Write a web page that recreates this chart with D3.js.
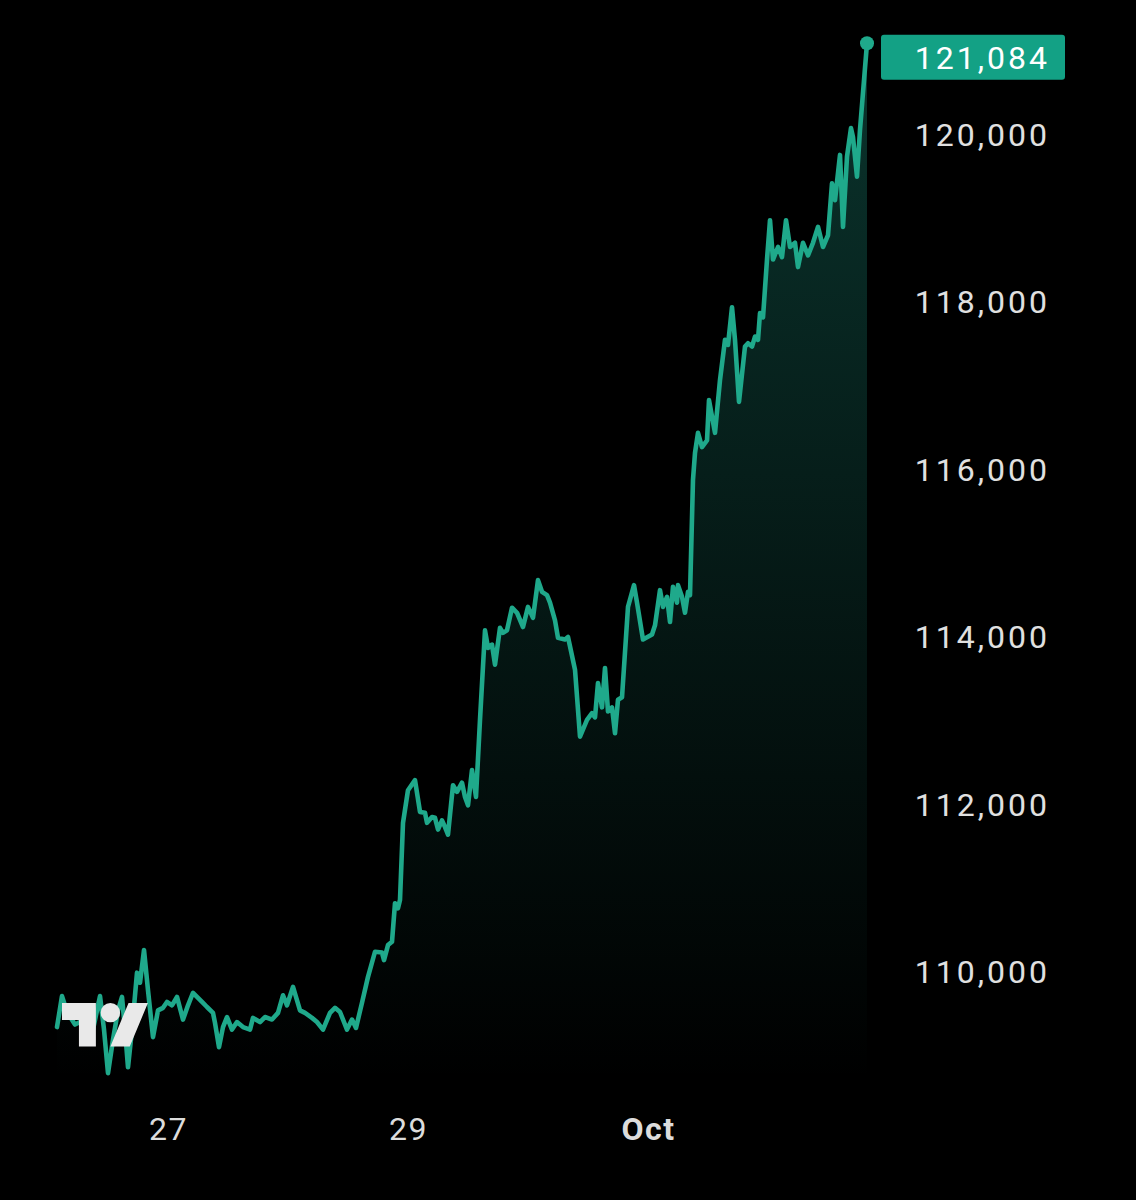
<!DOCTYPE html>
<html>
<head>
<meta charset="utf-8">
<script src="https://cdn.jsdelivr.net/npm/d3@7"></script>
<style>
  html, body { margin: 0; padding: 0; background: #000; }
  svg { display: block; }
  text { font-family: Roboto, "Noto Sans", sans-serif; }
</style>
</head>
<body>
<svg id="chart" width="1136" height="1200"></svg>
<script>
// Hours elapsed since 26 Sep 2025 00:00
const hours = [
  1.8, 2.8, 3.8, 5.4, 7.4, 9.0, 10.4, 11.2, 12.0, 13.0, 14.0, 14.8, 15.4, 16.0, 16.8, 17.8, 18.4, 19.2, 20.0, 21.0,
  22.0, 23.0, 23.8, 24.8, 25.8, 27.0, 28.0, 29.0, 30.0, 31.0, 31.8, 33.0, 33.4, 34.2, 35.0, 35.8, 36.8, 37.8, 39.0, 40.4,
  41.0, 42.4, 43.4, 44.8, 46.0, 47.0, 47.8, 49.0, 50.4, 51.4, 52.8, 53.8, 55.0, 56.4, 57.4, 58.4, 59.8, 60.8, 61.6, 62.8,
  64.0, 65.4, 66.8, 67.2, 68.0, 68.8, 69.4, 70.0, 70.4, 71.0, 72.0, 73.4, 74.4, 75.4, 75.8, 76.8, 77.4, 78.0, 78.8, 79.4,
  80.0, 81.0, 81.8, 82.8, 83.4, 84.0, 84.8, 85.6, 86.4, 87.4, 88.0, 88.8, 89.4, 90.4, 91.0, 91.8, 92.8, 93.8, 95.0, 96.0,
  97.0, 98.0, 98.8, 99.8, 100.4, 101.4, 102.0, 103.4, 104.0, 105.4, 106.4, 107.8, 108.8, 109.4, 110.0, 110.8, 111.4, 112.0, 112.8, 113.4,
  114.0, 114.8, 116.0, 117.2, 117.8, 119.0, 120.8, 121.4, 122.4, 123.0, 123.8, 124.4, 125.0, 125.8, 126.0, 126.8, 127.4, 128.0, 128.4, 129.0,
  129.4, 130.0, 130.8, 131.8, 132.2, 133.4, 134.4, 135.4, 136.0, 136.8, 137.4, 138.2, 139.4, 140.0, 140.8, 141.4, 142.0, 142.4, 143.0, 143.8,
  144.4, 145.0, 146.0, 146.8, 147.6, 148.4, 149.4, 150.0, 151.0, 152.0, 153.0, 154.0, 155.0, 156.0, 156.8, 157.4, 158.4, 159.0, 159.8, 160.6,
  161.0, 161.8, 162.4, 163.8
];
const prices = [
  109330, 109700, 109510, 109360, 109420, 109300, 109700, 109300, 108780, 109180, 109530, 109690, 109300, 108850, 109300, 109980, 109860, 110250, 109770, 109210,
  109530, 109560, 109630, 109590, 109690, 109420, 109590, 109740, 109680, 109620, 109570, 109500, 109380, 109090, 109330, 109450, 109300, 109390, 109330, 109300,
  109440, 109390, 109450, 109420, 109500, 109710, 109590, 109810, 109530, 109500, 109440, 109390, 109300, 109500, 109560, 109510, 109300, 109420, 109320, 109620,
  109930, 110230, 110220, 110130, 110310, 110350, 110810, 110750, 110850, 111770, 112160, 112280, 111900, 111890, 111770, 111840, 111830, 111690, 111800, 111720,
  111630, 112220, 112140, 112250, 112080, 111980, 112400, 112080, 113000, 114070, 113860, 113900, 113660, 114100, 114040, 114070, 114340, 114280, 114110, 114350,
  114220, 114670, 114530, 114490, 114400, 114190, 113980, 113960, 113990, 113600, 112800, 113000, 113080, 113030, 113440, 113150, 113620, 113100, 113150, 112840,
  113240, 113270, 114350, 114610, 114400, 113960, 114020, 114130, 114550, 114350, 114470, 114170, 114590, 114400, 114610, 114470, 114280, 114530, 114490, 115870,
  116190, 116430, 116260, 116340, 116820, 116430, 117060, 117540, 117480, 117930, 117540, 116800, 117460, 117500, 117460, 117580, 117540, 117860, 117810, 118500,
  118970, 118500, 118650, 118530, 118970, 118650, 118700, 118410, 118700, 118550, 118700, 118890, 118650, 118790, 119410, 119210, 119750, 118890, 119730, 120070,
  119960, 119490, 120050, 121084
];
const yTicks = [110000, 112000, 114000, 116000, 118000, 120000];
const xTickDates = ["2025-09-27", "2025-09-29", "2025-10-01"];
const xTickLabels = ["27", "29", "Oct"];

const startDate = new Date(2025, 8, 26, 0, 0);
const data = hours.map((h, i) => ({ t: new Date(startDate.getTime() + h * 3600e3), v: prices[i] }));

const svg = d3.select("#chart");
const W = 1136, H = 1200;
const lineColor = "#1fa98b";
const plotBottom = 1080;

svg.append("rect").attr("width", W).attr("height", H).attr("fill", "#000");

const x = d3.scaleTime()
  .domain([new Date(2025, 8, 26), new Date(2025, 9, 3)])
  .range([48, 888]);
const y = d3.scaleLinear()
  .domain([110000, 120000])
  .range([971, 134]);

const defs = svg.append("defs");
const grad = defs.append("linearGradient")
  .attr("id", "fillGrad")
  .attr("gradientUnits", "userSpaceOnUse")
  .attr("x1", 0).attr("x2", 0)
  .attr("y1", y(121084)).attr("y2", plotBottom);
grad.append("stop").attr("offset", "0%").attr("stop-color", "#22ab94").attr("stop-opacity", 0.3);
grad.append("stop").attr("offset", "100%").attr("stop-color", "#22ab94").attr("stop-opacity", 0.0);

const area = d3.area()
  .x(d => x(d.t))
  .y0(plotBottom)
  .y1(d => y(d.v));
svg.append("path").datum(data).attr("d", area).attr("fill", "url(#fillGrad)");

const line = d3.line().x(d => x(d.t)).y(d => y(d.v));
svg.append("path").datum(data)
  .attr("d", line)
  .attr("fill", "none")
  .attr("stroke", lineColor)
  .attr("stroke-width", 4.6)
  .attr("stroke-linejoin", "round")
  .attr("stroke-linecap", "round");

const last = data[data.length - 1];
svg.append("circle")
  .attr("cx", x(last.t)).attr("cy", y(last.v)).attr("r", 7)
  .attr("fill", lineColor);

// TradingView logo (watermark)
const logo = svg.append("g")
  .attr("transform", "translate(62,993.3) scale(2.42)")
  .attr("fill", "#e9e9e9");
logo.append("path").attr("d", "M14 22H7V11H0V4h14v18zM28 22h-8l7.5-18h8L28 22z");
logo.append("circle").attr("cx", 20).attr("cy", 8).attr("r", 4);

// Y axis
const yAxis = d3.axisLeft(y)
  .tickValues(yTicks)
  .tickSize(0)
  .tickPadding(0)
  .tickFormat(d3.format(","));
const gy = svg.append("g").attr("transform", "translate(1050,0)").call(yAxis);
gy.select(".domain").remove();
gy.selectAll("text")
  .attr("fill", "#e0e0e0")
  .style("font-size", "32px")
  .style("letter-spacing", "3px")
  .attr("dy", "0.36em");

// Last price label
const ly = y(last.v) + 14;
svg.append("rect")
  .attr("x", 881).attr("y", ly - 22.5).attr("width", 184).attr("height", 45)
  .attr("rx", 3).attr("fill", "#13a185");
svg.append("text")
  .attr("x", 1050).attr("y", ly).attr("dy", "0.36em")
  .attr("text-anchor", "end")
  .attr("fill", "#ffffff")
  .style("font-size", "32px")
  .style("letter-spacing", "3px")
  .text(d3.format(",")(last.v));

// X axis
const xAxis = d3.axisBottom(x)
  .tickValues(xTickDates.map(s => d3.timeParse("%Y-%m-%d")(s)))
  .tickSize(0)
  .tickPadding(0)
  .tickFormat((d, i) => xTickLabels[i]);
const gx = svg.append("g").attr("transform", "translate(0,1128)").call(xAxis);
gx.select(".domain").remove();
gx.selectAll("text")
  .attr("dy", "0.36em")
  .attr("fill", "#dcdcdc")
  .style("font-size", "32px")
  .style("letter-spacing", "1.5px")
  .style("font-weight", (d, i) => xTickLabels[i] === "Oct" ? "700" : "400");
</script>
</body>
</html>
